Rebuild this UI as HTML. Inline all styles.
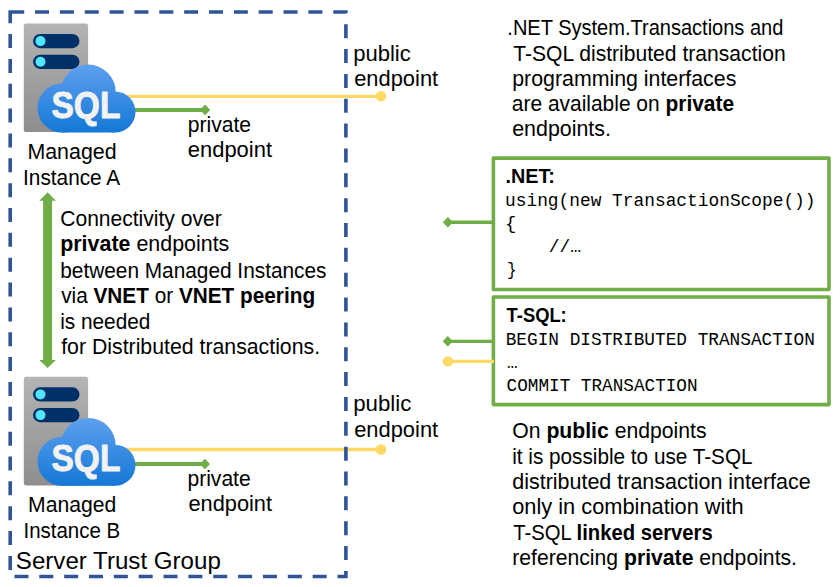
<!DOCTYPE html>
<html><head><meta charset="utf-8"><style>
html,body{margin:0;padding:0;background:#fff;width:840px;height:587px;overflow:hidden}
svg{display:block}
</style></head><body>
<svg width="840" height="587" viewBox="0 0 840 587">
<defs>
<linearGradient id="gray" gradientUnits="userSpaceOnUse" x1="0" y1="23.4" x2="0" y2="132">
<stop offset="0" stop-color="#B4B4B4"/><stop offset="1" stop-color="#8E8E8E"/>
</linearGradient>
<linearGradient id="blue" gradientUnits="userSpaceOnUse" x1="0" y1="64.5" x2="0" y2="132.5">
<stop offset="0" stop-color="#5EA0EF"/><stop offset="1" stop-color="#1478D6"/>
</linearGradient>
</defs><line x1="125" y1="96.3" x2="381.0" y2="96.3" stroke="#FFD966" stroke-width="3.3"/>
<circle cx="381.0" cy="96.3" r="5.3" fill="#FFD966"/>
<line x1="125" y1="109.9" x2="205.1" y2="109.9" stroke="#70AD47" stroke-width="4"/>
<path d="M200.0,109.9 L205.1,104.60000000000001 L210.2,109.9 L205.1,115.2 Z" fill="#70AD47"/><line x1="125" y1="449.5" x2="381.0" y2="449.5" stroke="#FFD966" stroke-width="3.3"/>
<circle cx="381.0" cy="449.5" r="5.3" fill="#FFD966"/>
<line x1="125" y1="464.0" x2="204.9" y2="464.0" stroke="#70AD47" stroke-width="4"/>
<path d="M199.8,464.0 L204.9,458.7 L210.0,464.0 L204.9,469.3 Z" fill="#70AD47"/><g transform="translate(0,0)">
<rect x="23.8" y="23.4" width="64.3" height="108.7" rx="2.7" fill="url(#gray)"/>
<rect x="33" y="34" width="46.5" height="14.2" rx="7.1" fill="#003067"/>
<rect x="33" y="54.7" width="46.5" height="14.2" rx="7.1" fill="#003067"/>
<circle cx="40.5" cy="41.1" r="5" fill="#50E6FF"/>
<circle cx="40.5" cy="61.8" r="5" fill="#50E6FF"/>
<g fill="url(#blue)">
<circle cx="88.2" cy="92.1" r="27.5"/>
<circle cx="62" cy="108" r="24.5"/>
<circle cx="115" cy="112" r="20.5"/>
<rect x="62" y="100" width="53" height="32.5"/>
</g>
</g><g transform="translate(0,353.3)">
<rect x="23.8" y="23.4" width="64.3" height="108.7" rx="2.7" fill="url(#gray)"/>
<rect x="33" y="34" width="46.5" height="14.2" rx="7.1" fill="#003067"/>
<rect x="33" y="54.7" width="46.5" height="14.2" rx="7.1" fill="#003067"/>
<circle cx="40.5" cy="41.1" r="5" fill="#50E6FF"/>
<circle cx="40.5" cy="61.8" r="5" fill="#50E6FF"/>
<g fill="url(#blue)">
<circle cx="88.2" cy="92.1" r="27.5"/>
<circle cx="62" cy="108" r="24.5"/>
<circle cx="115" cy="112" r="20.5"/>
<rect x="62" y="100" width="53" height="32.5"/>
</g>
</g><path d="M43.1,200.8 L39.3,200.8 L47.6,192.2 L55.9,200.8 L52.1,200.8 L52.1,360 L55.9,360 L47.6,367.9 L39.3,360 L43.1,360 Z" fill="#70AD47"/><rect x="493.4" y="158.1" width="335.6" height="131.4" fill="none" stroke="#70AD47" stroke-width="3.6" stroke-linejoin="round"/><rect x="493.4" y="297" width="335.6" height="107.6" fill="none" stroke="#70AD47" stroke-width="3.6" stroke-linejoin="round"/><line x1="447.9" y1="222.2" x2="494" y2="222.2" stroke="#70AD47" stroke-width="3.5"/><path d="M442.8,222.2 L447.9,216.9 L453,222.2 L447.9,227.5 Z" fill="#70AD47"/><line x1="447.8" y1="341.4" x2="494" y2="341.4" stroke="#70AD47" stroke-width="3.3"/><path d="M442.7,341.3 L447.8,336 L452.9,341.3 L447.8,346.6 Z" fill="#70AD47"/><line x1="448" y1="361.4" x2="494" y2="361.4" stroke="#FFD966" stroke-width="3.1"/><circle cx="448" cy="361.4" r="5.2" fill="#FFD966"/><path d="M10.2,12 H345.9 V576.5 H10.2 Z" fill="none" stroke="#2F5597" stroke-width="3.6" stroke-dasharray="14 10.85" stroke-linejoin="miter"/>
<text id="t0" transform="translate(353.16,60.80) scale(1.0259,1)" font-family='"Liberation Sans", sans-serif' font-size="21.5" fill="#000">public</text>
<text id="t1" transform="translate(354.19,85.80) scale(1.0183,1)" font-family='"Liberation Sans", sans-serif' font-size="21.5" fill="#000">endpoint</text>
<text id="t2" transform="translate(187.82,131.60) scale(0.9810,1)" font-family='"Liberation Sans", sans-serif' font-size="21.5" fill="#000">private</text>
<text id="t3" transform="translate(187.78,157.10) scale(1.0220,1)" font-family='"Liberation Sans", sans-serif' font-size="21.5" fill="#000">endpoint</text>
<text id="t4" transform="translate(27.41,158.80) scale(0.9954,1)" font-family='"Liberation Sans", sans-serif' font-size="21.5" fill="#000">Managed</text>
<text id="t5" transform="translate(23.06,184.70) scale(0.9677,1)" font-family='"Liberation Sans", sans-serif' font-size="21.5" fill="#000">Instance A</text>
<text id="t6" transform="translate(60.22,226.40) scale(0.9799,1)" font-family='"Liberation Sans", sans-serif' font-size="21.5" fill="#000">Connectivity over</text>
<text id="t7" transform="translate(60.20,251.40) scale(0.9970,1)" font-family='"Liberation Sans", sans-serif' font-size="21.5" fill="#000"><tspan font-weight="bold">private</tspan> endpoints</text>
<text id="t8" transform="translate(60.23,277.70) scale(0.9693,1)" font-family='"Liberation Sans", sans-serif' font-size="21.5" fill="#000">between Managed Instances</text>
<text id="t9" transform="translate(61.20,302.90) scale(0.9668,1)" font-family='"Liberation Sans", sans-serif' font-size="21.5" fill="#000">via <tspan font-weight="bold">VNET</tspan> or <tspan font-weight="bold">VNET peering</tspan></text>
<text id="t10" transform="translate(60.23,328.60) scale(0.9670,1)" font-family='"Liberation Sans", sans-serif' font-size="21.5" fill="#000">is needed</text>
<text id="t11" transform="translate(61.20,354.10) scale(0.9900,1)" font-family='"Liberation Sans", sans-serif' font-size="21.5" fill="#000">for Distributed transactions.</text>
<text id="t12" transform="translate(353.15,411.40) scale(1.0352,1)" font-family='"Liberation Sans", sans-serif' font-size="21.5" fill="#000">public</text>
<text id="t13" transform="translate(354.19,437.00) scale(1.0183,1)" font-family='"Liberation Sans", sans-serif' font-size="21.5" fill="#000">endpoint</text>
<text id="t14" transform="translate(187.42,485.50) scale(0.9810,1)" font-family='"Liberation Sans", sans-serif' font-size="21.5" fill="#000">private</text>
<text id="t15" transform="translate(188.40,510.80) scale(1.0146,1)" font-family='"Liberation Sans", sans-serif' font-size="21.5" fill="#000">endpoint</text>
<text id="t16" transform="translate(28.01,512.00) scale(0.9852,1)" font-family='"Liberation Sans", sans-serif' font-size="21.5" fill="#000">Managed</text>
<text id="t17" transform="translate(23.49,537.60) scale(0.9515,1)" font-family='"Liberation Sans", sans-serif' font-size="21.5" fill="#000">Instance B</text>
<text id="t18" transform="translate(15.82,568.90) scale(0.9845,1)" font-family='"Liberation Sans", sans-serif' font-size="24.5" fill="#000">Server Trust Group</text>
<text id="t19" transform="translate(507.33,35.00) scale(0.9324,1)" font-family='"Liberation Sans", sans-serif' font-size="21.5" fill="#000">.NET System.Transactions and</text>
<text id="t20" transform="translate(513.20,60.60) scale(0.9816,1)" font-family='"Liberation Sans", sans-serif' font-size="21.5" fill="#000">T-SQL distributed transaction</text>
<text id="t21" transform="translate(512.21,86.00) scale(0.9933,1)" font-family='"Liberation Sans", sans-serif' font-size="21.5" fill="#000">programming interfaces</text>
<text id="t22" transform="translate(511.82,111.40) scale(0.9740,1)" font-family='"Liberation Sans", sans-serif' font-size="21.5" fill="#000">are available on <tspan font-weight="bold">private</tspan></text>
<text id="t23" transform="translate(512.20,136.40) scale(0.9959,1)" font-family='"Liberation Sans", sans-serif' font-size="21.5" fill="#000">endpoints.</text>
<text id="t24" transform="translate(505.41,183.30) scale(0.9915,1)" font-family='"Liberation Sans", sans-serif' font-size="20" fill="#000"><tspan font-weight="bold">.NET:</tspan></text>
<text id="t25" transform="translate(505.04,205.50) scale(0.9551,1)" font-family='"Liberation Mono", monospace' font-size="18.7" fill="#000">using(new TransactionScope())</text>
<text id="t26" transform="translate(504.98,228.80) scale(1.0125,1)" font-family='"Liberation Mono", monospace' font-size="18.7" fill="#000">{</text>
<text id="t27" transform="translate(548.65,252.10) scale(0.9594,1)" font-family='"Liberation Mono", monospace' font-size="18.7" fill="#000">//…</text>
<text id="t28" transform="translate(506.96,275.40) scale(0.8556,1)" font-family='"Liberation Mono", monospace' font-size="18.7" fill="#000">}</text>
<text id="t29" transform="translate(506.62,321.60) scale(0.9172,1)" font-family='"Liberation Sans", sans-serif' font-size="20" fill="#000"><tspan font-weight="bold">T-SQL:</tspan></text>
<text id="t30" transform="translate(505.66,344.60) scale(0.9511,1)" font-family='"Liberation Mono", monospace' font-size="18.7" fill="#000">BEGIN DISTRIBUTED TRANSACTION</text>
<text id="t31" transform="translate(507.03,367.80) scale(0.9430,1)" font-family='"Liberation Mono", monospace' font-size="18.7" fill="#000">…</text>
<text id="t32" transform="translate(506.61,391.00) scale(0.9463,1)" font-family='"Liberation Mono", monospace' font-size="18.7" fill="#000">COMMIT TRANSACTION</text>
<text id="t33" transform="translate(512.21,438.20) scale(0.9862,1)" font-family='"Liberation Sans", sans-serif' font-size="21.5" fill="#000">On <tspan font-weight="bold">public</tspan> endpoints</text>
<text id="t34" transform="translate(512.23,463.50) scale(0.9641,1)" font-family='"Liberation Sans", sans-serif' font-size="21.5" fill="#000">it is possible to use T-SQL</text>
<text id="t35" transform="translate(512.20,489.10) scale(0.9997,1)" font-family='"Liberation Sans", sans-serif' font-size="21.5" fill="#000">distributed transaction interface</text>
<text id="t36" transform="translate(512.19,513.70) scale(1.0146,1)" font-family='"Liberation Sans", sans-serif' font-size="21.5" fill="#000">only in combination with</text>
<text id="t37" transform="translate(513.19,539.80) scale(0.9417,1)" font-family='"Liberation Sans", sans-serif' font-size="21.5" fill="#000">T-SQL <tspan font-weight="bold">linked servers</tspan></text>
<text id="t38" transform="translate(512.21,565.40) scale(0.9850,1)" font-family='"Liberation Sans", sans-serif' font-size="21.5" fill="#000">referencing <tspan font-weight="bold">private</tspan> endpoints.</text>
<text id="t39" transform="translate(51.52,117.70) scale(0.9054,1)" font-family='"Liberation Sans", sans-serif' font-size="37" fill="#F2F2F2" stroke="#F2F2F2" stroke-width="0.9" stroke-linejoin="round"><tspan font-weight="bold">SQL</tspan></text>
<text id="t40" transform="translate(51.52,471.00) scale(0.9054,1)" font-family='"Liberation Sans", sans-serif' font-size="37" fill="#F2F2F2" stroke="#F2F2F2" stroke-width="0.9" stroke-linejoin="round"><tspan font-weight="bold">SQL</tspan></text>
</svg>
</body></html>
